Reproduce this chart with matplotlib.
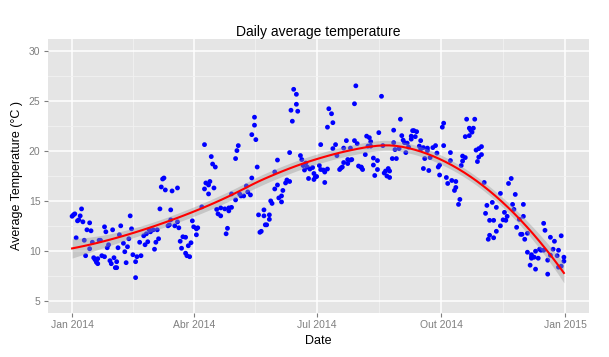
import numpy as np
import matplotlib
matplotlib.use("Agg")
import matplotlib.pyplot as plt
from datetime import date

# ---------------- data ----------------
day_of_year = [
    0, 1, 2, 3, 4, 5, 6, 7, 8, 9, 10, 11, 13, 13, 14, 15, 16, 17, 18, 19, 19, 20, 21, 22, 24, 24, 25, 26, 27, 28, 29, 30, 31, 32,
    33, 33, 34, 35, 36, 38, 39, 40, 41, 42, 43, 44, 45, 47, 47, 48, 50, 51, 53, 54, 55, 56, 57, 58, 60, 61, 62, 63, 64, 65, 66, 67, 68, 69,
    71, 72, 73, 73, 74, 76, 78, 78, 79, 80, 81, 82, 84, 84, 85, 86, 87, 88, 89, 90, 92, 92, 93, 96, 98, 98, 99, 101, 101, 102, 103, 104, 105, 106, 107,
    108, 110, 110, 113, 114, 115, 116, 116, 118, 118, 121, 121, 122, 123, 124, 125, 127, 129, 130, 132, 133, 133, 135, 135, 136, 137, 138, 139, 140, 142, 142, 143,
    144, 146, 146, 147, 148, 150, 150, 152, 152, 153, 155, 155, 156, 158, 159, 161, 161, 162, 163, 164, 166, 166, 167, 169, 170, 171, 172, 173, 174, 175, 176, 178, 179, 179, 180,
    181, 183, 184, 184, 186, 187, 187, 189, 189, 190, 192, 193, 193, 195, 196, 198, 199, 200, 201, 201, 203, 204, 204, 206, 206, 207, 209, 209, 210, 211, 212, 214, 214, 215, 217, 218,
    219, 220, 221, 221, 223, 223, 224, 226, 226, 227, 229, 230, 231, 232, 233, 234, 235, 235, 237, 238, 238, 239, 240, 242, 243, 244, 245, 246, 247, 248, 249, 251, 251, 252, 253, 254,
    255, 257, 258, 258, 260, 260, 261, 263, 263, 264, 265, 267, 269, 270, 271, 272, 272, 274, 275, 275, 277, 278, 280, 280, 281, 283, 284, 284, 286, 287, 288, 289, 289, 291, 291, 292,
    294, 294, 295, 296, 297, 298, 299, 300, 301, 301, 303, 303, 305, 306, 307, 308, 309, 309, 311, 312, 312, 314, 314, 317, 317, 319, 320, 321, 322, 323, 325, 326, 327, 328, 329,
    331, 332, 333, 334, 334, 335, 337, 337, 339, 340, 340, 340, 342, 343, 343, 345, 346, 347, 349, 349, 350, 352, 352, 354, 354, 356, 357, 359, 360, 360, 362, 362, 364, 364,
]
temp_c = [
    13.46, 13.6, 13.7, 11.3, 13.0, 13.1, 13.5, 14.2, 12.9, 11.05, 9.5, 12.1, 12.8, 10.2, 12.0, 10.85, 9.3, 9.1, 8.85, 8.7, 9.2, 11.05, 11.05, 9.5, 12.4, 9.4, 11.9, 10.3, 10.6, 9.0, 8.7, 12.1, 9.3, 8.3,
    8.9, 8.3, 10.3, 11.6, 12.5, 10.75, 9.9, 8.8, 10.4, 11.2, 13.5, 12.2, 9.6, 8.9, 7.3, 9.4, 10.85, 9.5, 11.5, 10.6, 11.7, 10.9, 12.1, 11.9, 12.1, 10.15, 10.85, 12.1, 11.2, 14.2, 16.4, 17.2, 17.3, 16.1,
    12.5, 12.6, 14.1, 13.1, 16.0, 12.5, 16.3, 12.9, 12.3, 10.95, 10.25, 11.4, 11.35, 9.75, 9.5, 10.5, 9.4, 10.8, 13.0, 12.4, 12.2, 11.6, 12.3, 14.4, 20.65, 16.2, 16.8, 16.6, 15.7, 16.95, 19.45, 18.7, 16.3, 18.4, 14.15,
    13.7, 14.3, 13.5, 14.2, 11.7, 12.25, 14.3, 14.0, 14.35, 15.7, 15.1, 19.25, 20.05, 20.55, 15.7, 15.5, 15.5, 16.5, 15.9, 15.6, 17.3, 21.65, 23.4, 22.6, 21.15, 18.4, 13.6, 11.85, 11.95, 14.1, 13.5, 12.6,
    12.6, 13.15, 13.6, 15.0, 14.75, 16.2, 17.9, 16.6, 19.1, 15.3, 14.9, 15.5, 16.05, 16.8, 17.1, 16.95, 19.85, 24.1, 23.0, 26.2, 25.7, 24.7, 24.0, 19.55, 19.15, 18.55, 18.1, 18.8, 18.4, 17.25, 18.2, 18.35, 17.75, 17.15, 17.4,
    17.45, 18.55, 20.65, 18.15, 18.1, 17.9, 16.85, 18.2, 22.4, 24.25, 23.75, 22.85, 20.25, 20.65, 19.55, 18.15, 18.3, 18.4, 18.85, 20.3, 21.05, 18.75, 19.15, 20.3, 19.1, 19.15, 21.05, 24.75, 26.55, 20.75, 18.5, 18.4, 18.35, 18.15, 19.65, 21.5,
    20.5, 21.35, 20.95, 20.5, 19.3, 18.6, 17.55, 19.05, 18.15, 21.85, 25.5, 20.55, 17.8, 18.0, 17.5, 18.25, 18.0, 17.35, 19.25, 20.85, 22.1, 20.15, 19.25, 20.25, 23.2, 21.55, 21.1, 20.85, 19.85, 20.8, 20.4, 21.2, 21.5, 22.05, 22.05, 21.45,
    21.95, 20.5, 21.05, 20.2, 20.35, 18.25, 19.25, 20.3, 20.05, 18.05, 19.35, 20.35, 20.55, 19.8, 18.4, 18.6, 17.6, 22.4, 22.8, 20.55, 17.35, 16.75, 19.05, 19.85, 17.05, 16.05, 16.35, 16.95, 14.65, 15.15, 18.55, 19.0, 19.5, 19.35, 21.45, 23.2,
    22.3, 21.55, 22.1, 21.9, 22.3, 23.2, 20.1, 18.95, 20.25, 19.4, 20.45, 19.65, 16.85, 13.75, 14.55, 11.15, 13.05, 11.55, 14.85, 13.05, 11.3, 11.95, 14.35, 15.75, 12.5, 13.1, 13.85, 13.05, 13.45, 16.75, 17.25, 14.65, 14.15, 15.65, 12.35,
    13.15, 11.65, 11.65, 14.65, 13.45, 11.15, 11.75, 9.85, 8.55, 9.35, 9.6, 9.25, 9.35, 9.95, 8.15, 9.25, 10.15, 10.05, 12.75, 10.05, 12.05, 9.05, 7.65, 11.35, 9.55, 10.15, 10.95, 9.5, 10.05, 8.35, 11.5, 8.45, 9.35, 8.95,
]
tick_dates = [date(2014, 1, 1), date(2014, 4, 1), date(2014, 7, 1), date(2014, 10, 1), date(2015, 1, 1)]
tick_labels = ["Jan 2014", "Abr 2014", "Jul 2014", "Out 2014", "Jan 2015"]
y_ticks = [5, 10, 15, 20, 25, 30]

x = np.array(day_of_year, dtype=float)
y = np.array(temp_c, dtype=float)


# ---------------- loess (span 0.75, degree 2) like geom_smooth ----------------
def loess_rows(xd, x0s, span=0.75):
    n = len(xd)
    q = int(np.floor(n * span))
    rows = []
    for x0 in x0s:
        d = np.abs(xd - x0)
        h = np.sort(d)[q - 1]
        w = np.clip(1 - (d / h) ** 3, 0, None) ** 3
        X = np.column_stack([np.ones(n), xd - x0, (xd - x0) ** 2])
        XtW = X.T * w
        A = np.linalg.solve(XtW @ X, XtW)
        rows.append(A[0])
    return np.array(rows)


S = loess_rows(x, x)
res = y - S @ y
I_S = np.eye(len(x)) - S
delta1 = np.trace(I_S.T @ I_S)
sigma = np.sqrt(np.sum(res ** 2) / delta1)

xs = np.linspace(x.min(), x.max(), 80)
L = loess_rows(x, xs)
fit = L @ y
se = sigma * np.sqrt(np.sum(L ** 2, axis=1))
lo, hi = fit - 1.97 * se, fit + 1.97 * se

# ---------------- figure ----------------
W, H = 609, 357
fig = plt.figure(figsize=(W / 100, H / 100), dpi=100)
ax = fig.add_axes([47.5 / W, 44 / H, 541 / W, 274 / H])
ax.set_facecolor("#E5E5E5")
for s in ax.spines.values():
    s.set_visible(False)

tick_pos = [(d - date(2014, 1, 1)).days for d in tick_dates]
minor_pos = [(a + b) / 2 for a, b in zip(tick_pos[:-1], tick_pos[1:])]
ax.set_xticks(tick_pos)
ax.set_xticklabels(tick_labels)
ax.set_xticks(minor_pos, minor=True)
ax.set_yticks(y_ticks)
ax.set_yticks([7.5, 12.5, 17.5, 22.5, 27.5], minor=True)
ax.grid(which="major", color="white", lw=1.1, zorder=0)
ax.grid(which="minor", color="#F2F2F2", lw=0.6, zorder=0)
ax.set_axisbelow(True)
ax.tick_params(which="major", length=3, width=0.8, color="#7F7F7F",
               labelcolor="#7F7F7F", labelsize=7.5, pad=2)
ax.tick_params(which="minor", length=0)

span_x = x.max() - x.min()
ax.set_xlim(x.min() - 0.05 * span_x, x.max() + 0.05 * span_x)
ax.set_ylim(3.75, 31.25)

ax.scatter(x, y, s=12, color="#0000FF", edgecolors="none", zorder=3)
ax.fill_between(xs, lo, hi, color="#999999", alpha=0.4, lw=0, zorder=4)
ax.plot(xs, fit, color="#FF0000", lw=1.5, zorder=5)

ax.set_xlabel("Date", fontsize=9, color="black", labelpad=4)
ax.set_ylabel("Average Temperature (°C )", fontsize=9, color="black", labelpad=4)
ax.set_title("Daily average temperature", fontsize=10, color="black", pad=2)

plt.rcParams["font.family"] = ["Liberation Sans", "DejaVu Sans"]
for t in [ax.title, ax.xaxis.label, ax.yaxis.label] + ax.get_xticklabels() + ax.get_yticklabels():
    t.set_fontfamily(["Liberation Sans", "DejaVu Sans"])

fig.savefig("out.png", dpi=100, facecolor="white")
